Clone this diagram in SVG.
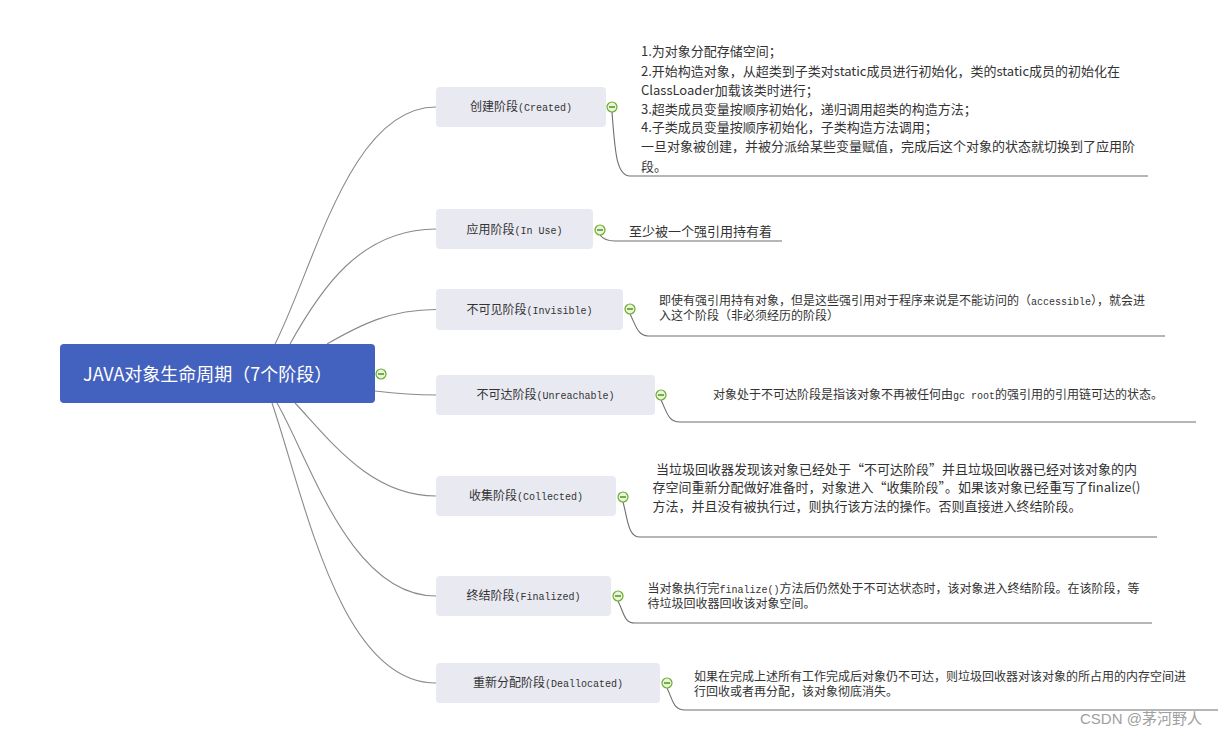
<svg xmlns="http://www.w3.org/2000/svg" width="1232" height="736" viewBox="0 0 1232 736">
<style>
.bg{fill:#ffffff}
.conn{fill:none;stroke:#8a8a8a;stroke-width:1.1}
.leaf{fill:none;stroke:#6f6f6f;stroke-width:1.1}
.box{fill:#e9e9f2}
.root{fill:#4361be}
.rt{font-family:"Noto Sans CJK SC",sans-serif;font-size:18px;fill:#ffffff}
.lbl{font-family:"Noto Sans CJK SC",sans-serif;font-size:12px;fill:#333333;text-anchor:middle}
.t13{font-family:"Noto Sans CJK SC",sans-serif;font-size:13px;fill:#333333}
.t12{font-family:"Noto Sans CJK SC",sans-serif;font-size:12px;fill:#333333}
.m{font-family:"Liberation Mono",monospace;font-size:10px}
.tog{fill:#e8f5d6;stroke:#6aab2e;stroke-width:1.2}
.minus{stroke:#3f7d12;stroke-width:1.3}
.wm{font-family:"Liberation Sans","Noto Sans CJK SC",sans-serif;font-size:15px;fill:#a0a0a0}
</style>
<defs>
<g id="toggle"><circle class="tog" cx="0" cy="0" r="5"/><line class="minus" x1="-3" y1="0" x2="3" y2="0"/></g>
</defs>
<rect class="bg" x="0" y="0" width="1232" height="736"/>
<g id="connectors">
<path class="conn" d="M275,344 C315,265 350,107 436,107"/>
<path class="conn" d="M290,344 C320,290 360,229 436,229"/>
<path class="conn" d="M327,344 C360,325 390,309.5 436,309.5"/>
<path class="conn" d="M375,391 C400,394 415,395 436,395"/>
<path class="conn" d="M295,403 C330,440 370,496 436,496"/>
<path class="conn" d="M277,403 C310,460 350,596 436,596"/>
<path class="conn" d="M272,403 C305,500 340,683 436,683"/>
<path class="leaf" d="M612,112 C615,150 616,176 630,176 L1148,176"/>
<path class="leaf" d="M600,235 C603,239 607,241 615,241 L782,241"/>
<path class="leaf" d="M630,314 C636,326 638,336 648,336 L1165,336"/>
<path class="leaf" d="M661,400 C667,412 668,422 680,422 L1196,422"/>
<path class="leaf" d="M623,502 C628,520 628,537 640,537 L1157,537"/>
<path class="leaf" d="M618,601 C624,613 624,623 635,623 L1152,623"/>
<path class="leaf" d="M667,688 C673,700 673,710 685,710 L1218,710"/>
</g>
<g id="root">
<rect class="root" x="60" y="344" width="315" height="59" rx="4"/>
<text class="rt" x="83" y="381">JAVA对象生命周期（7个阶段）</text>
<use href="#toggle" x="381" y="374"/>
</g>
<g id="created">
<rect class="box" x="436" y="87" width="170" height="40" rx="4"/>
<text class="lbl" x="521" y="111">创建阶段<tspan class="m">(Created)</tspan></text>
<use href="#toggle" x="612" y="107"/>
</g>
<g id="created-note">
<text class="t13" x="641" y="56">1.为对象分配存储空间；</text>
<text class="t13" x="641" y="76">2.开始构造对象，从超类到子类对static成员进行初始化，类的static成员的初始化在</text>
<text class="t13" x="641" y="94.5">ClassLoader加载该类时进行；</text>
<text class="t13" x="641" y="113.5">3.超类成员变量按顺序初始化，递归调用超类的构造方法；</text>
<text class="t13" x="641" y="132">4.子类成员变量按顺序初始化，子类构造方法调用；</text>
<text class="t13" x="641" y="151">一旦对象被创建，并被分派给某些变量赋值，完成后这个对象的状态就切换到了应用阶</text>
<text class="t13" x="641" y="170.5">段。</text>
</g>
<g id="inuse">
<rect class="box" x="436" y="209" width="157" height="40" rx="4"/>
<text class="lbl" x="514.5" y="233.5">应用阶段<tspan class="m">(In Use)</tspan></text>
<use href="#toggle" x="600" y="230"/>
</g>
<g id="inuse-note">
<text class="t13" x="629" y="235.5">至少被一个强引用持有着</text>
</g>
<g id="invisible">
<rect class="box" x="436" y="289" width="187" height="41" rx="4"/>
<text class="lbl" x="529.5" y="313.5">不可见阶段<tspan class="m">(Invisible)</tspan></text>
<use href="#toggle" x="630" y="309"/>
</g>
<g id="invisible-note">
<text class="t12" x="659" y="305">即使有强引用持有对象，但是这些强引用对于程序来说是不能访问的（<tspan class="m">accessible</tspan>），就会进</text>
<text class="t12" x="659" y="320">入这个阶段（非必须经历的阶段）</text>
</g>
<g id="unreachable">
<rect class="box" x="436" y="375" width="219" height="40" rx="4"/>
<text class="lbl" x="545.5" y="399">不可达阶段<tspan class="m">(Unreachable)</tspan></text>
<use href="#toggle" x="661" y="395"/>
</g>
<g id="unreachable-note">
<text class="t12" x="713" y="399">对象处于不可达阶段是指该对象不再被任何由<tspan class="m">gc root</tspan>的强引用的引用链可达的状态。</text>
</g>
<g id="collected">
<rect class="box" x="436" y="476" width="180" height="40" rx="4"/>
<text class="lbl" x="526" y="500">收集阶段<tspan class="m">(Collected)</tspan></text>
<use href="#toggle" x="623" y="497"/>
</g>
<g id="collected-note">
<text class="t13" x="656" y="473.5">当垃圾回收器发现该对象已经处于“不可达阶段”并且垃圾回收器已经对该对象的内</text>
<text class="t13" x="652.5" y="492">存空间重新分配做好准备时，对象进入“收集阶段”。如果该对象已经重写了finalize()</text>
<text class="t13" x="652.5" y="511">方法，并且没有被执行过，则执行该方法的操作。否则直接进入终结阶段。</text>
</g>
<g id="finalized">
<rect class="box" x="436" y="576" width="175" height="40" rx="4"/>
<text class="lbl" x="523.5" y="600">终结阶段<tspan class="m">(Finalized)</tspan></text>
<use href="#toggle" x="618" y="596"/>
</g>
<g id="finalized-note">
<text class="t12" x="647.5" y="592.5">当对象执行完<tspan class="m">finalize()</tspan>方法后仍然处于不可达状态时，该对象进入终结阶段。在该阶段，等</text>
<text class="t12" x="647.5" y="607.5">待垃圾回收器回收该对象空间。</text>
</g>
<g id="deallocated">
<rect class="box" x="436" y="663" width="224" height="40" rx="4"/>
<text class="lbl" x="548" y="687">重新分配阶段<tspan class="m">(Deallocated)</tspan></text>
<use href="#toggle" x="667" y="683"/>
</g>
<g id="deallocated-note">
<text class="t12" x="694" y="680.5">如果在完成上述所有工作完成后对象仍不可达，则垃圾回收器对该对象的所占用的内存空间进</text>
<text class="t12" x="694" y="695.5">行回收或者再分配，该对象彻底消失。</text>
</g>
<text class="wm" x="1080" y="724">CSDN @茅河野人</text>
</svg>
